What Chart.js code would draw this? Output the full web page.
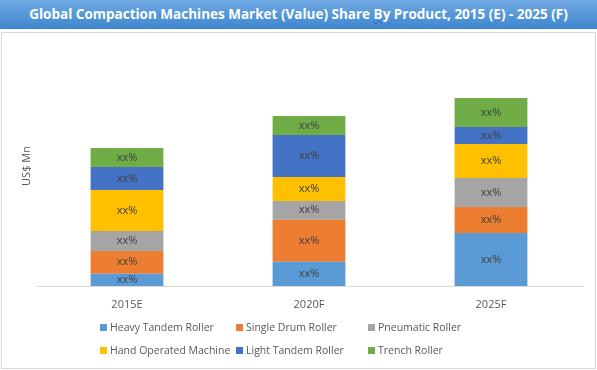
<!DOCTYPE html>
<html>
<head>
<meta charset="utf-8">
<script src="https://cdn.jsdelivr.net/npm/chart.js@4"></script>
<style>
  body { margin: 0; background: #fff; width: 597px; height: 370px; position: relative; overflow: hidden; font-family: "Open Sans", sans-serif; }
  #title { position: absolute; left: 0; top: 0; width: 597px; height: 29px; background: linear-gradient(#6ea9e2, #3f86cf); color: #fff; font-weight: bold; font-size: 13.5px; line-height: 29px; text-align: center; }
  #title .sp { text-decoration: underline wavy #3a4fd0; text-decoration-thickness: 1px; }
  #box { position: absolute; left: 1px; top: 32px; width: 593px; height: 335px; border: 1px solid #d9d9d9; }
  #wrap { position: absolute; left: 0; top: 32px; width: 597px; height: 300px; }
  #legend { position: absolute; left: 0; top: 0; width: 597px; height: 370px; pointer-events: none; }
  .li { position: absolute; font-size: 10.5px; color: #595959; white-space: nowrap; line-height: 14px; }
  .li i { display: inline-block; width: 7px; height: 7px; margin-right: 3px; vertical-align: 0px; }
</style>
</head>
<body>
<div id="title">Global Compaction Machines Market (Value) Share <span class="sp">By</span> Product, 2015 (E) - 2025 (F)</div>
<div id="box"></div>
<div id="wrap"><canvas id="mycanvas" width="597" height="300"></canvas></div>
<div id="legend"></div>
<script>
var years = ['2015E', '2020F', '2025F'];
var products = ['Heavy Tandem Roller', 'Single Drum Roller', 'Pneumatic Roller', 'Hand Operated Machine', 'Light Tandem Roller', 'Trench Roller'];
var colors = ['#5b9bd5', '#ed7d31', '#a5a5a5', '#ffc000', '#4472c4', '#70ad47'];
var heavyTandem = [12.3, 24.3, 53];
var singleDrum = [22.7, 42, 26];
var pneumatic = [20, 18.7, 29];
var handOperated = [41, 24, 34];
var lightTandem = [23, 42, 17];
var trench = [19, 19, 29];
var barLabel = 'xx%';

var series = [heavyTandem, singleDrum, pneumatic, handOperated, lightTandem, trench];
var datasets = [];
for (var i in series) {
    datasets.push({
        label: products[i],
        data: series[i],
        backgroundColor: colors[i],
        borderWidth: 0,
        barPercentage: 0.4,
        categoryPercentage: 1
    });
}

// writes the "xx%" text in the middle of every bar piece
var barText = {
    id: 'barText',
    afterDatasetsDraw: function(chart) {
        var ctx = chart.ctx;
        ctx.save();
        ctx.font = '11px "Open Sans"';
        ctx.fillStyle = '#404040';
        ctx.textAlign = 'center';
        ctx.textBaseline = 'middle';
        chart.data.datasets.forEach(function(ds, i) {
            chart.getDatasetMeta(i).data.forEach(function(bar) {
                var p = bar.getProps(['x', 'y', 'base'], true);
                ctx.fillText(barLabel, p.x, (p.y + p.base) / 2);
            });
        });
        ctx.restore();
    }
};

var chart = new Chart(document.getElementById('mycanvas'), {
    type: 'bar',
    data: { labels: years, datasets: datasets },
    options: {
        responsive: false,
        animation: false,
        layout: { padding: { top: 14, right: 15, left: 0, bottom: 0 } },
        plugins: { legend: { display: false }, tooltip: { enabled: false } },
        scales: {
            x: {
                stacked: true,
                grid: { display: false },
                border: { display: true, color: '#d9d9d9', width: 1 },
                ticks: { color: '#595959', font: { family: 'Open Sans', size: 11 }, padding: 4 },
                afterFit: function(s) { s.height = 46; }
            },
            y: {
                stacked: true,
                min: 0,
                max: 240,
                grid: { display: false },
                border: { display: false },
                ticks: { display: false },
                title: { display: true, text: 'US$ Mn', color: '#595959', font: { family: 'Open Sans', size: 11 }, padding: { top: 20, bottom: 0 } },
                afterFit: function(s) { s.width = 36; }
            }
        }
    },
    plugins: [barText]
});

// legend in two rows of three, like the original
var legendPos = [[100, 320], [236, 320], [368, 320], [100, 343], [236, 343], [368, 343]];
var html = '';
chart.data.datasets.forEach(function(ds, i) {
    html += '<div class="li" style="left:' + legendPos[i][0] + 'px;top:' + legendPos[i][1] + 'px"><i style="background:' + ds.backgroundColor + '"></i>' + ds.label + '</div>';
});
document.getElementById('legend').innerHTML = html;
</script>
</body>
</html>
